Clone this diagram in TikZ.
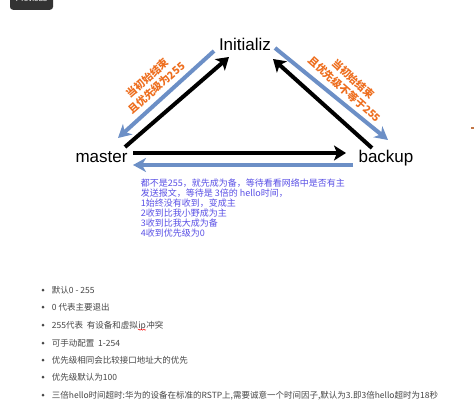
\documentclass[tikz,border=0pt]{standalone}
\usepackage{fontspec}
\setmainfont{Liberation Sans}
\newfontfamily\cjk{Noto Sans CJK SC}
\usetikzlibrary{arrows.meta,decorations.pathmorphing}
\definecolor{arrblue}{RGB}{108,143,198}
\definecolor{lblorange}{RGB}{238,110,30}
\definecolor{descblue}{RGB}{90,80,230}
\definecolor{listgray}{RGB}{70,70,70}
\definecolor{btngray}{RGB}{51,51,51}
\begin{document}
\begin{tikzpicture}[x=1pt,y=-1pt,
  lbl/.style={font=\fontsize{17}{17}\selectfont, inner sep=0pt, anchor=base},
  blk/.style={draw=black, line width=4pt, -{Stealth[length=12pt,width=15pt,inset=3pt]}},
  blu/.style={draw=arrblue, line width=4pt, -{Stealth[length=13pt,width=14pt,inset=4pt]}},
  orng/.style={text=lblorange, font=\cjk\bfseries\fontsize{10.5}{13.5}\selectfont, align=center, inner sep=0pt},
  desc/.style={text=descblue, font=\cjk\fontsize{9}{10}\selectfont, anchor=base west, inner sep=0pt},
  item/.style={text=listgray, font=\cjk\fontsize{8.5}{10}\selectfont, anchor=base west, inner sep=0pt},
  bdot/.style={fill=listgray, circle, inner sep=0pt, minimum size=3pt}]

\useasboundingbox (0,0) rectangle (474,412);
\clip (0,0) rectangle (474,412);
\fill[white] (0,0) rectangle (474,412);

% Previous button (cut off at top)
\node[fill=btngray, rounded corners=3pt, minimum width=43pt, minimum height=22pt,
      text=white, font=\fontsize{8}{8}\selectfont, anchor=south] (prev) at (31.5,10) {Previous};

% main labels
\node[lbl] (init) at (245,51) {Initializ};
\node[lbl] (master) at (101.5,162) {master};
\node[lbl] (backup) at (386,162) {backup};

% connector end points
\coordinate (mA) at (125,147); \coordinate (iA) at (229,57);
\coordinate (bA) at (372,148); \coordinate (iB) at (273,59);
\coordinate (mC) at (133,153); \coordinate (bC) at (346,153);
\coordinate (iL) at (214,51);  \coordinate (mL) at (118,138);
\coordinate (iR) at (275,48);  \coordinate (bR) at (388,140);
\coordinate (bD) at (353,165); \coordinate (mD) at (133,165);

% black arrows
\draw[blk] (mA) -- (iA);
\draw[blk] (bA) -- (iB);
\draw[blk] (mC) -- (bC);
% blue arrows
\draw[blu] (iL) -- (mL);
\draw[blu] (iR) -- (bR);
\draw[blu] (bD) -- (mD);

% orange rotated labels
\node[orng, rotate=41.5] (lt) at (152,83) {当初始结束\\且优先级为255};
\node[orng, rotate=-41.5] (rt) at (349,84) {当初始结束\\且优先级不等于255};

% description text
\node[desc] (d1) at (140.7,186.5) {都不是255，就先成为备，等待看看网络中是否有主};
\node[desc] (d2) at (140.7,196.5) {发送报文，等待是 3倍的 hello时间，};
\node[desc] (d3) at (140.7,206.5) {1始终没有收到，变成主};
\node[desc] (d4) at (140.7,216.5) {2收到比我小野成为主};
\node[desc] (d5) at (140.7,226.5) {3收到比我大成为备};
\node[desc] (d6) at (140.7,236.5) {4收到优先级为0};

% bullet list
\foreach \yy/\nm in {290/1,307/2,325/3,343/4,360/5,377/6,395/7}
  \node[bdot] (dot\nm) at (43,\yy) {};
\node[item] (b1) at (51.7,293.2) {默认0 - 255};
\node[item] (b2) at (51.7,310.4) {0 代表主要退出};
\node[item] (b3a) at (51.7,328.2) {255代表\ \ 有设备和虚拟};
\node[item] (b3ip) at (b3a.base east) {ip};
\node[item] (b3c) at (b3ip.base east) {冲突};
\node[item] (b4) at (51.7,346.2) {可手动配置\ \ 1-254};
\node[item] (b5) at (51.7,363.2) {优先级相同会比较接口地址大的优先};
\node[item] (b6) at (51.7,380.4) {优先级默认为100};
\node[item] (b7) at (51.7,398.2) {三倍hello时间超时:华为的设备在标准的RSTP上,需要诚意一个时间因子,默认为3.即3倍hello超时为18秒};
\draw[red, line width=0.4pt, decorate, decoration={snake, amplitude=0.6pt, segment length=2.5pt}]
  ([yshift=-1.5pt]b3ip.base west) -- ([yshift=-1.5pt]b3ip.base east);

% tiny mark at right edge
\fill[lblorange!60!gray] (471,126.5) rectangle (474,128.5);
\end{tikzpicture}
\end{document}
